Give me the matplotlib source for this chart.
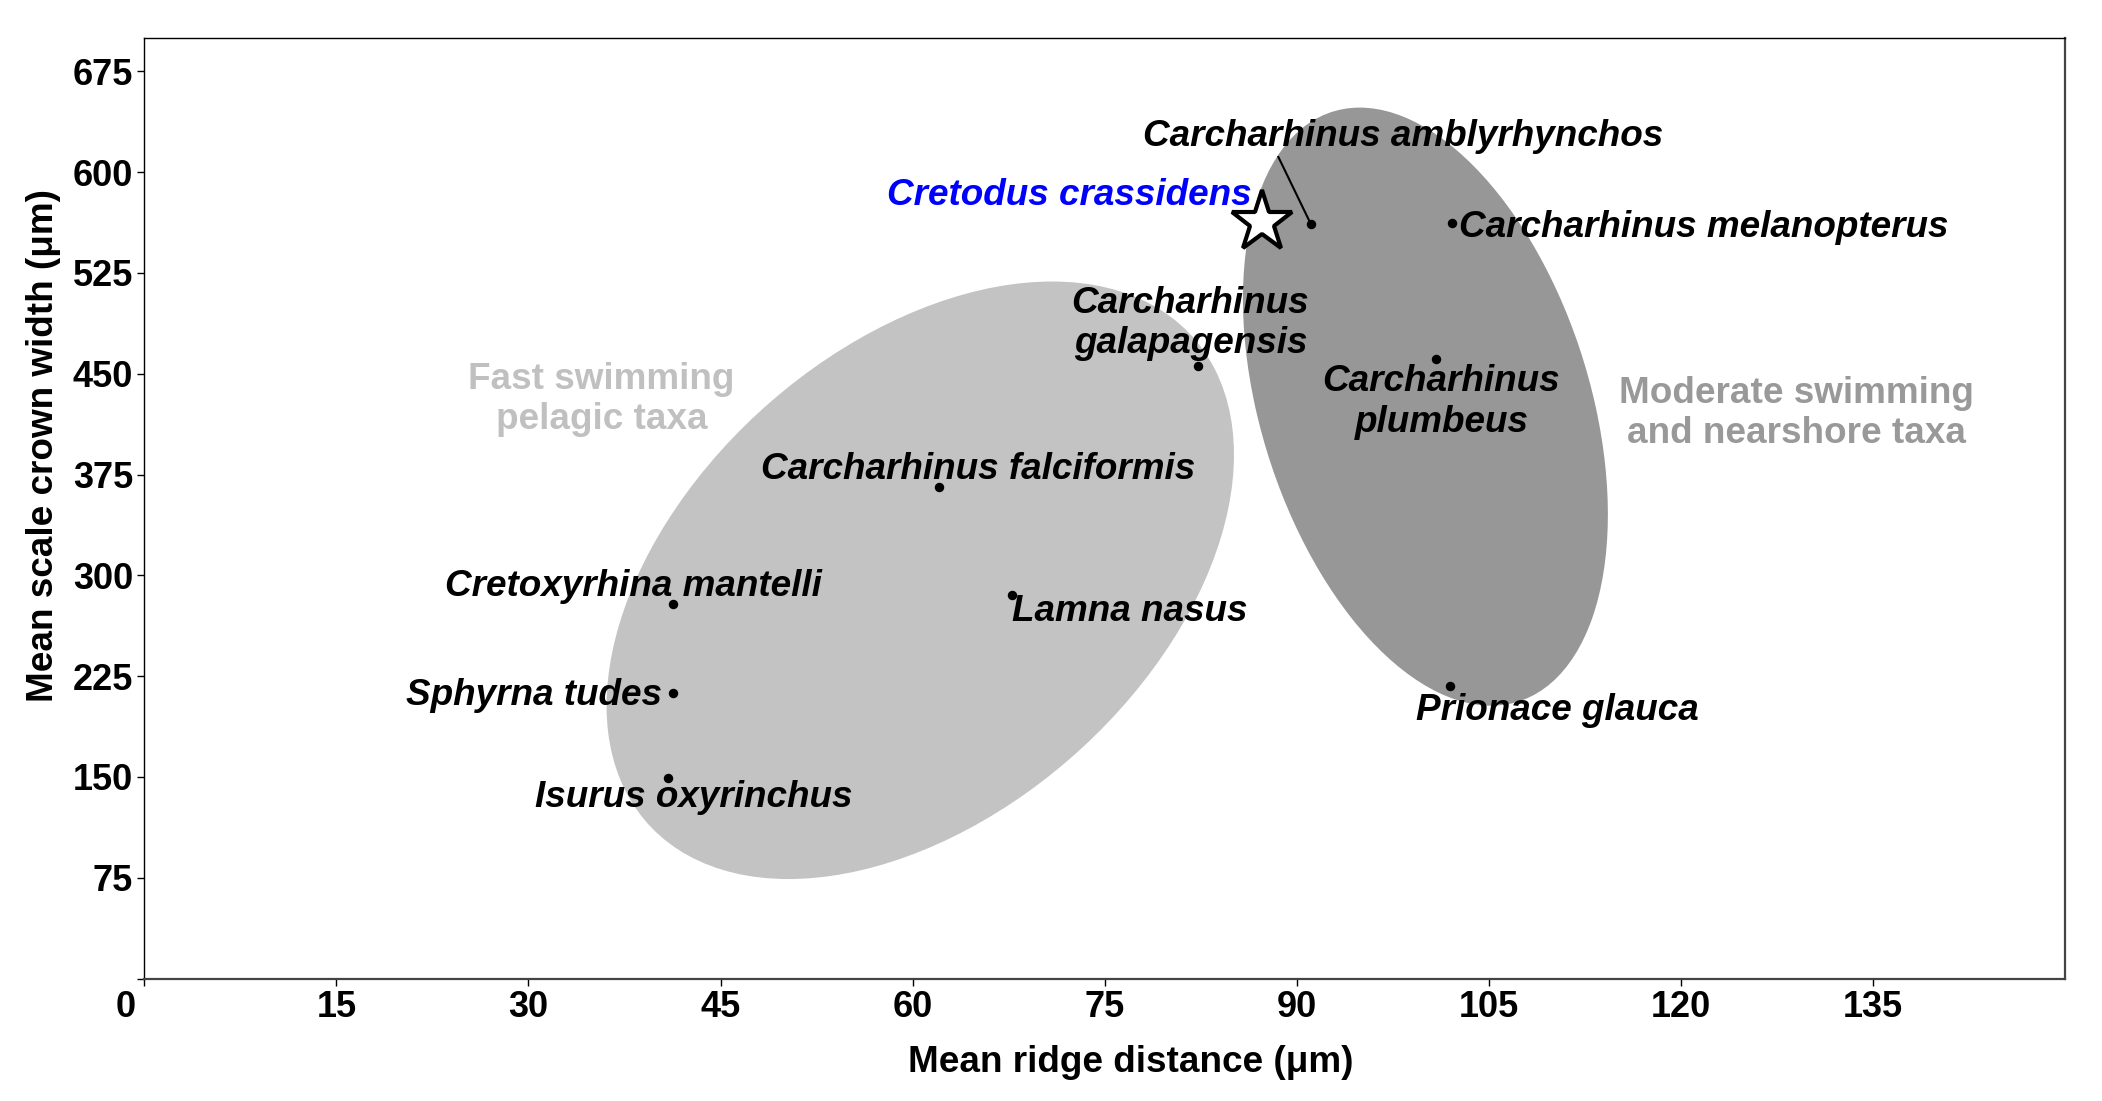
import numpy as np
import matplotlib
matplotlib.use("Agg")
import matplotlib.pyplot as plt
from matplotlib.patches import Ellipse
from matplotlib.transforms import ScaledTranslation

plt.rcParams["font.family"] = ["Liberation Sans", "DejaVu Sans"]
plt.rcParams["font.weight"] = "bold"

# mean ridge distance (um), mean scale crown width (um)
species = ["Carcharhinus amblyrhynchos", "Carcharhinus melanopterus",
           "Carcharhinus\ngalapagensis", "Carcharhinus\nplumbeus",
           "Carcharhinus falciformis", "Lamna nasus", "Cretoxyrhina mantelli",
           "Sphyrna tudes", "Isurus oxyrinchus", "Prionace glauca"]
ridge = [91.1, 102.1, 82.3, 100.9, 62.1, 67.75, 41.3, 41.3, 40.9, 102.0]
crown = [561.4, 562.3, 456.0, 461.3, 365.9, 285.3, 278.6, 212.2, 149.0, 217.9]

fossil = "Cretodus crassidens"
fossil_ridge = 87.3
fossil_crown = 563.0

# label placement (x, y, ha)
label_pos = [(98.3, 626.5, "center"), (102.7, 559.0, "left"),
             (81.7, 487.5, "center"), (101.3, 429.0, "center"),
             (65.1, 378.5, "center"), (67.75, 273.0, "left"),
             (38.2, 291.5, "center"), (40.4, 210.5, "right"),
             (42.9, 135.0, "center"), (99.3, 199.5, "left")]

# group ellipses: centre x, centre y, half-extent x, half-extent y, correlation
groups = ["Fast swimming\npelagic taxa", "Moderate swimming\nand nearshore taxa"]
group_ell = [(60.6, 296.3, 24.5, 222.3, 0.42), (100.05, 425.5, 14.25, 222.5, -0.36)]
group_fill = ["#c3c3c3", "#979797"]
group_text_pos = [(35.7, 431.0), (129.0, 420.5)]
group_text_col = ["#c0c0c0", "#999999"]

FS = 26.6
LS = 1.2

fig = plt.figure(figsize=(21.02, 11.01), dpi=100)
ax = fig.add_axes([0.06865, 0.11126, 0.91375, 0.85449])

for (cx, cy, sx, sy, r), col in zip(group_ell, group_fill):
    cov = np.array([[sx**2, r*sx*sy], [r*sx*sy, sy**2]])
    vals, vecs = np.linalg.eigh(cov)
    ang = np.degrees(np.arctan2(vecs[1, 1], vecs[0, 1]))
    ax.add_patch(Ellipse((cx, cy), 2*np.sqrt(vals[1]), 2*np.sqrt(vals[0]),
                         angle=ang, facecolor=col, edgecolor="none", zorder=1))

for name, (tx, ty), col in zip(groups, group_text_pos, group_text_col):
    ax.text(tx, ty, name, color=col, fontsize=FS, fontweight="bold",
            ha="center", va="center", multialignment="center", linespacing=LS)

ax.plot(ridge, crown, "o", color="black", ms=5.8, zorder=3)
ax.plot([fossil_ridge], [fossil_crown], "*", ms=46, mfc="white", mec="black",
        mew=3, zorder=4)

for ii, name in enumerate(species):
    lx, ly, ha = label_pos[ii]
    if ii == 0:
        ax.annotate(name, xy=(ridge[ii], crown[ii]), xytext=(lx, ly),
                    fontsize=FS, fontweight="bold", fontstyle="italic",
                    ha=ha, va="center",
                    arrowprops=dict(arrowstyle="-", color="black", lw=1.5,
                                    relpos=(0.256, 0.05), shrinkA=0, shrinkB=3))
    else:
        ax.text(lx, ly, name, fontsize=FS, fontweight="bold", fontstyle="italic",
                ha=ha, va="center", multialignment="center", linespacing=LS,
                zorder=5)

ax.text(86.45, 582.5, fossil, color="#0000ff", fontsize=FS, fontweight="bold",
        fontstyle="italic", ha="right", va="center")

ax.set_xlim(0, 150)
ax.set_ylim(0, 700)
ax.set_xticks(np.arange(0, 136, 15))
ax.set_yticks(np.arange(0, 676, 75))
ax.set_yticklabels([""] + [str(v) for v in range(75, 676, 75)])
ax.tick_params(direction="out", length=5, width=1, labelsize=26, pad=3)
for lab in ax.get_xticklabels():
    lab.set_fontweight("bold")
for lab in ax.get_yticklabels():
    lab.set_fontweight("bold")
first = ax.get_xticklabels()[0]
first.set_ha("right")
first.set_transform(first.get_transform() + ScaledTranslation(-0.09, 0, fig.dpi_scale_trans))

for side in ["left", "top"]:
    ax.spines[side].set_color("black")
    ax.spines[side].set_linewidth(1.0)
for side in ["bottom", "right"]:
    ax.spines[side].set_color("#444444")
    ax.spines[side].set_linewidth(1.6)

ax.set_xlabel("Mean ridge distance (μm)", fontsize=FS, fontweight="bold")
ax.set_ylabel("Mean scale crown width (μm)", fontsize=FS, fontweight="bold")
ax.xaxis.set_label_coords(0.5136, -0.0888)
ax.xaxis.label.set_va("center")
ax.yaxis.set_label_coords(-0.0527, 0.567)
ax.yaxis.label.set_va("center")

fig.savefig("out.png", dpi=100)
